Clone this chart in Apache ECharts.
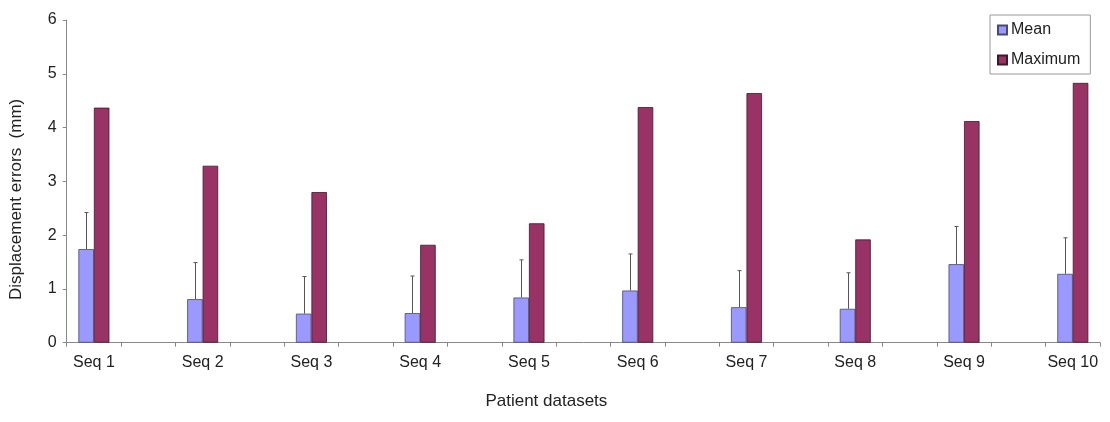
<!DOCTYPE html>
<html>
<head>
<meta charset="utf-8">
<script src="https://cdn.jsdelivr.net/npm/echarts@6/dist/echarts.min.js"></script>
<style>
html,body{margin:0;padding:0;background:#fff;}
#c{width:1110px;height:422px;}
</style>
</head>
<body>
<div id="c"></div>
<script>
const seqLabels = ['Seq 1','Seq 2','Seq 3','Seq 4','Seq 5','Seq 6','Seq 7','Seq 8','Seq 9','Seq 10'];
const meanValues = [1.74, 0.81, 0.54, 0.55, 0.84, 0.97, 0.66, 0.63, 1.46, 1.28];
const maxValues  = [4.37, 3.29, 2.80, 1.82, 2.22, 4.38, 4.64, 1.92, 4.12, 4.83];
const sdValues   = [0.68, 0.68, 0.69, 0.69, 0.70, 0.68, 0.68, 0.67, 0.70, 0.67];
const yTicks = [0, 1, 2, 3, 4, 5, 6];

// Excel layout: each dataset followed by an empty spacer category
const categories = [];
const meanData = [];
const maxData = [];
const errData = [];
seqLabels.forEach((s, i) => {
  if (i > 0) { categories.push(''); meanData.push('-'); maxData.push('-'); }
  const idx = categories.length;
  categories.push(s);
  meanData.push(meanValues[i]);
  maxData.push(maxValues[i]);
  errData.push([idx, meanValues[i], sdValues[i]]);
});

const GAP = 0.43;
const font = 'Liberation Sans, Arial, sans-serif';
const chart = echarts.init(document.getElementById('c'), null, {renderer: 'canvas'});
chart.setOption({
  animation: false,
  backgroundColor: '#ffffff',
  grid: {left: 66.7, right: 10, top: 20, bottom: 79.3, containLabel: false, outerBoundsMode: 'none'},
  legend: {
    orient: 'vertical', left: 990, top: 15,
    data: ['Mean', 'Maximum'],
    icon: 'rect', itemWidth: 9, itemHeight: 9, itemGap: 12,
    padding: [6, 10, 5, 7],
    borderColor: '#999', borderWidth: 1,
    textStyle: {fontFamily: font, fontSize: 16, color: '#222', lineHeight: 18, padding: [0,0,0,-1]}
  },
  xAxis: {
    type: 'category', data: categories,
    name: 'Patient datasets', nameLocation: 'middle', nameGap: 50,
    nameTextStyle: {fontFamily: font, fontSize: 17, color: '#222', padding: [0, 74, 0, 0]},
    axisLine: {lineStyle: {color: '#888', width: 1}},
    axisTick: {show: true, length: 4, lineStyle: {color: '#888'}},
    axisLabel: {interval: 0, fontFamily: font, fontSize: 16, color: '#222', margin: 12},
    splitLine: {show: false}
  },
  yAxis: {
    type: 'value', min: yTicks[0], max: yTicks[yTicks.length - 1], interval: 1,
    name: 'Displacement errors  (mm)', nameLocation: 'middle', nameGap: 42, nameRotate: 90,
    nameTextStyle: {fontFamily: font, fontSize: 17, color: '#222', padding: [0, 36, 0, 0]},
    axisLine: {show: true, lineStyle: {color: '#888', width: 1}},
    axisTick: {show: true, length: 4, lineStyle: {color: '#888'}},
    axisLabel: {fontFamily: font, fontSize: 16, color: '#222', margin: 10},
    splitLine: {show: false}
  },
  series: [
    {
      name: 'Mean', type: 'bar', data: meanData,
      barGap: '0%', barCategoryGap: (GAP * 100) + '%',
      itemStyle: {color: '#9999FF', borderColor: '#4a4a6a', borderWidth: 0.8}
    },
    {
      name: 'Maximum', type: 'bar', data: maxData,
      barGap: '0%', barCategoryGap: (GAP * 100) + '%',
      itemStyle: {color: '#993366', borderColor: '#3a1a2a', borderWidth: 0.8}
    },
    {
      name: 'err', type: 'custom', data: errData, z: 5,
      renderItem: function (params, api) {
        const idx = api.value(0), mean = api.value(1), sd = api.value(2);
        const cx0 = api.coord([idx, 0])[0];
        const catW = api.size([1, 0])[0];
        const barW = catW * (1 - GAP) / 2;
        const x = Math.round(cx0 - barW / 2) + 0.5;
        const yMean = api.coord([idx, mean])[1];
        const yTop = api.coord([idx, mean + sd])[1];
        const style = {stroke: '#555', lineWidth: 1, fill: null};
        return {
          type: 'group',
          children: [
            {type: 'line', shape: {x1: x, y1: yMean, x2: x, y2: yTop}, style: style},
            {type: 'line', shape: {x1: x - 2, y1: yTop, x2: x + 2, y2: yTop}, style: style}
          ]
        };
      }
    }
  ]
});
</script>
</body>
</html>
